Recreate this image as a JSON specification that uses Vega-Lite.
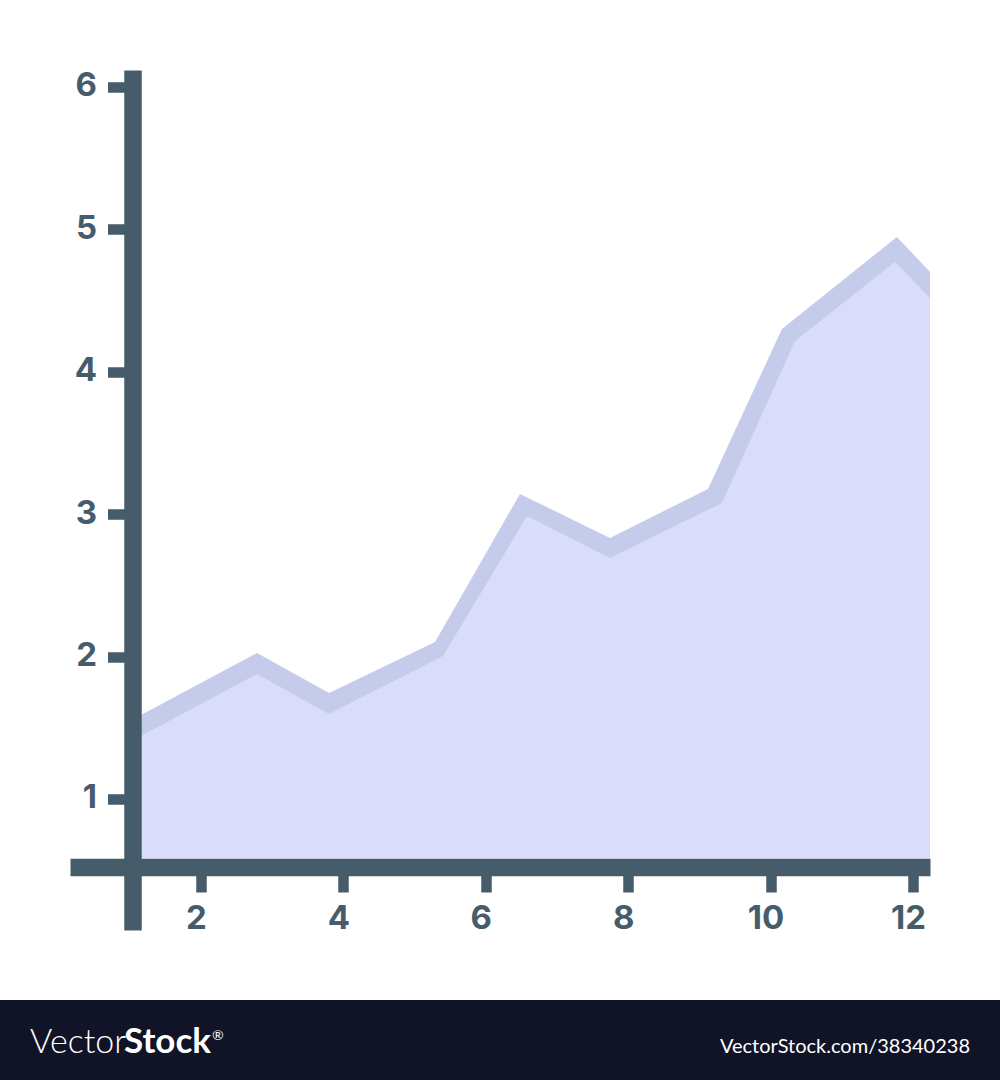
{
  "$schema": "https://vega.github.io/schema/vega-lite/v6.json",
  "autosize": "none",
  "padding": {"left": 70, "top": 70, "right": 70, "bottom": 150},
  "width": 860,
  "height": 860,
  "background": "#ffffff",
  "datasets": {
    "band": [
      {"x": 1.157, "y": 1.59, "base": 0.584},
      {"x": 2.787, "y": 2.025, "base": 0.584},
      {"x": 3.798, "y": 1.744, "base": 0.584},
      {"x": 5.287, "y": 2.103, "base": 0.584},
      {"x": 6.48, "y": 3.142, "base": 0.584},
      {"x": 7.744, "y": 2.833, "base": 0.584},
      {"x": 9.121, "y": 3.177, "base": 0.584},
      {"x": 10.16, "y": 4.301, "base": 0.584},
      {"x": 11.775, "y": 4.947, "base": 0.584},
      {"x": 12.239, "y": 4.701, "base": 0.584}
    ],
    "fill": [
      {"x": 1.157, "y": 1.442, "base": 0.584},
      {"x": 2.787, "y": 1.878, "base": 0.584},
      {"x": 3.798, "y": 1.597, "base": 0.584},
      {"x": 5.399, "y": 2.004, "base": 0.584},
      {"x": 6.579, "y": 2.987, "base": 0.584},
      {"x": 7.744, "y": 2.692, "base": 0.584},
      {"x": 9.317, "y": 3.079, "base": 0.584},
      {"x": 10.343, "y": 4.216, "base": 0.584},
      {"x": 11.747, "y": 4.771, "base": 0.584},
      {"x": 12.239, "y": 4.518, "base": 0.584}
    ]
  },
  "encoding": {
    "x": {
      "field": "x",
      "type": "quantitative",
      "title": null,
      "scale": {"domain": [0.16, 12.239], "nice": false, "zero": false},
      "axis": {
        "orient": "bottom",
        "offset": -63,
        "grid": false,
        "values": [2, 4, 6, 8, 10, 12],
        "format": "d",
        "domainColor": "#475c6a",
        "domainWidth": 17.5,
        "tickColor": "#475c6a",
        "tickWidth": 10.5,
        "tickSize": 25,
        "labelColor": "#475c6a",
        "labelFont": "Inter",
        "labelFontWeight": 700,
        "labelFontSize": 33,
        "labelPadding": 10,
        "labelOffset": -5,
        "labelFlush": false,
        "labelOverlap": false,
        "zindex": 1
      }
    },
    "y": {
      "field": "y",
      "type": "quantitative",
      "title": null,
      "scale": {"domain": [0.08, 6.119], "nice": false, "zero": false},
      "axis": {
        "orient": "left",
        "offset": -62.5,
        "grid": false,
        "values": [1, 2, 3, 4, 5, 6],
        "format": "d",
        "domainColor": "#475c6a",
        "domainWidth": 17.5,
        "tickColor": "#475c6a",
        "tickWidth": 10.5,
        "tickSize": 25,
        "labelColor": "#475c6a",
        "labelFont": "Inter",
        "labelFontWeight": 700,
        "labelFontSize": 33,
        "labelPadding": 11,
        "labelOffset": -1,
        "labelFlush": false,
        "labelOverlap": false,
        "zindex": 1
      }
    }
  },
  "layer": [
    {
      "data": {"name": "band"},
      "mark": {"type": "area", "color": "#c5cbeb"},
      "encoding": {"y2": {"field": "base"}}
    },
    {
      "data": {"name": "fill"},
      "mark": {"type": "area", "color": "#d9ddfa"},
      "encoding": {"y2": {"field": "base"}}
    },
    {
      "data": {"values": [{"x": -0.823, "x2": 13.222, "y": -0.4115, "y2": -0.973}]},
      "mark": {"type": "rect", "color": "#111427"},
      "encoding": {"x2": {"field": "x2"}, "y2": {"field": "y2"}}
    },
    {
      "data": {"values": [{"x": -0.402, "y": -0.784, "label": "Vector"}]},
      "mark": {"type": "text", "font": "Lato", "fontWeight": 300, "fontSize": 34, "color": "#ffffff", "align": "left", "baseline": "alphabetic"},
      "encoding": {"text": {"field": "label"}}
    },
    {
      "data": {"values": [{"x": 0.919, "y": -0.784, "label": "Stock"}]},
      "mark": {"type": "text", "font": "Lato", "fontWeight": 700, "fontSize": 35, "color": "#ffffff", "align": "left", "baseline": "alphabetic"},
      "encoding": {"text": {"field": "label"}}
    },
    {
      "data": {"values": [{"x": 2.154, "y": -0.692, "label": "®"}]},
      "mark": {"type": "text", "font": "Lato", "fontSize": 14, "color": "#ffffff", "align": "left", "baseline": "alphabetic"},
      "encoding": {"text": {"field": "label"}}
    },
    {
      "data": {"values": [{"x": 12.801, "y": -0.784, "label": "VectorStock.com/38340238"}]},
      "mark": {"type": "text", "font": "Lato", "fontSize": 20, "color": "#ffffff", "align": "right", "baseline": "alphabetic"},
      "encoding": {"text": {"field": "label"}}
    }
  ],
  "config": {"view": {"stroke": null}}
}
